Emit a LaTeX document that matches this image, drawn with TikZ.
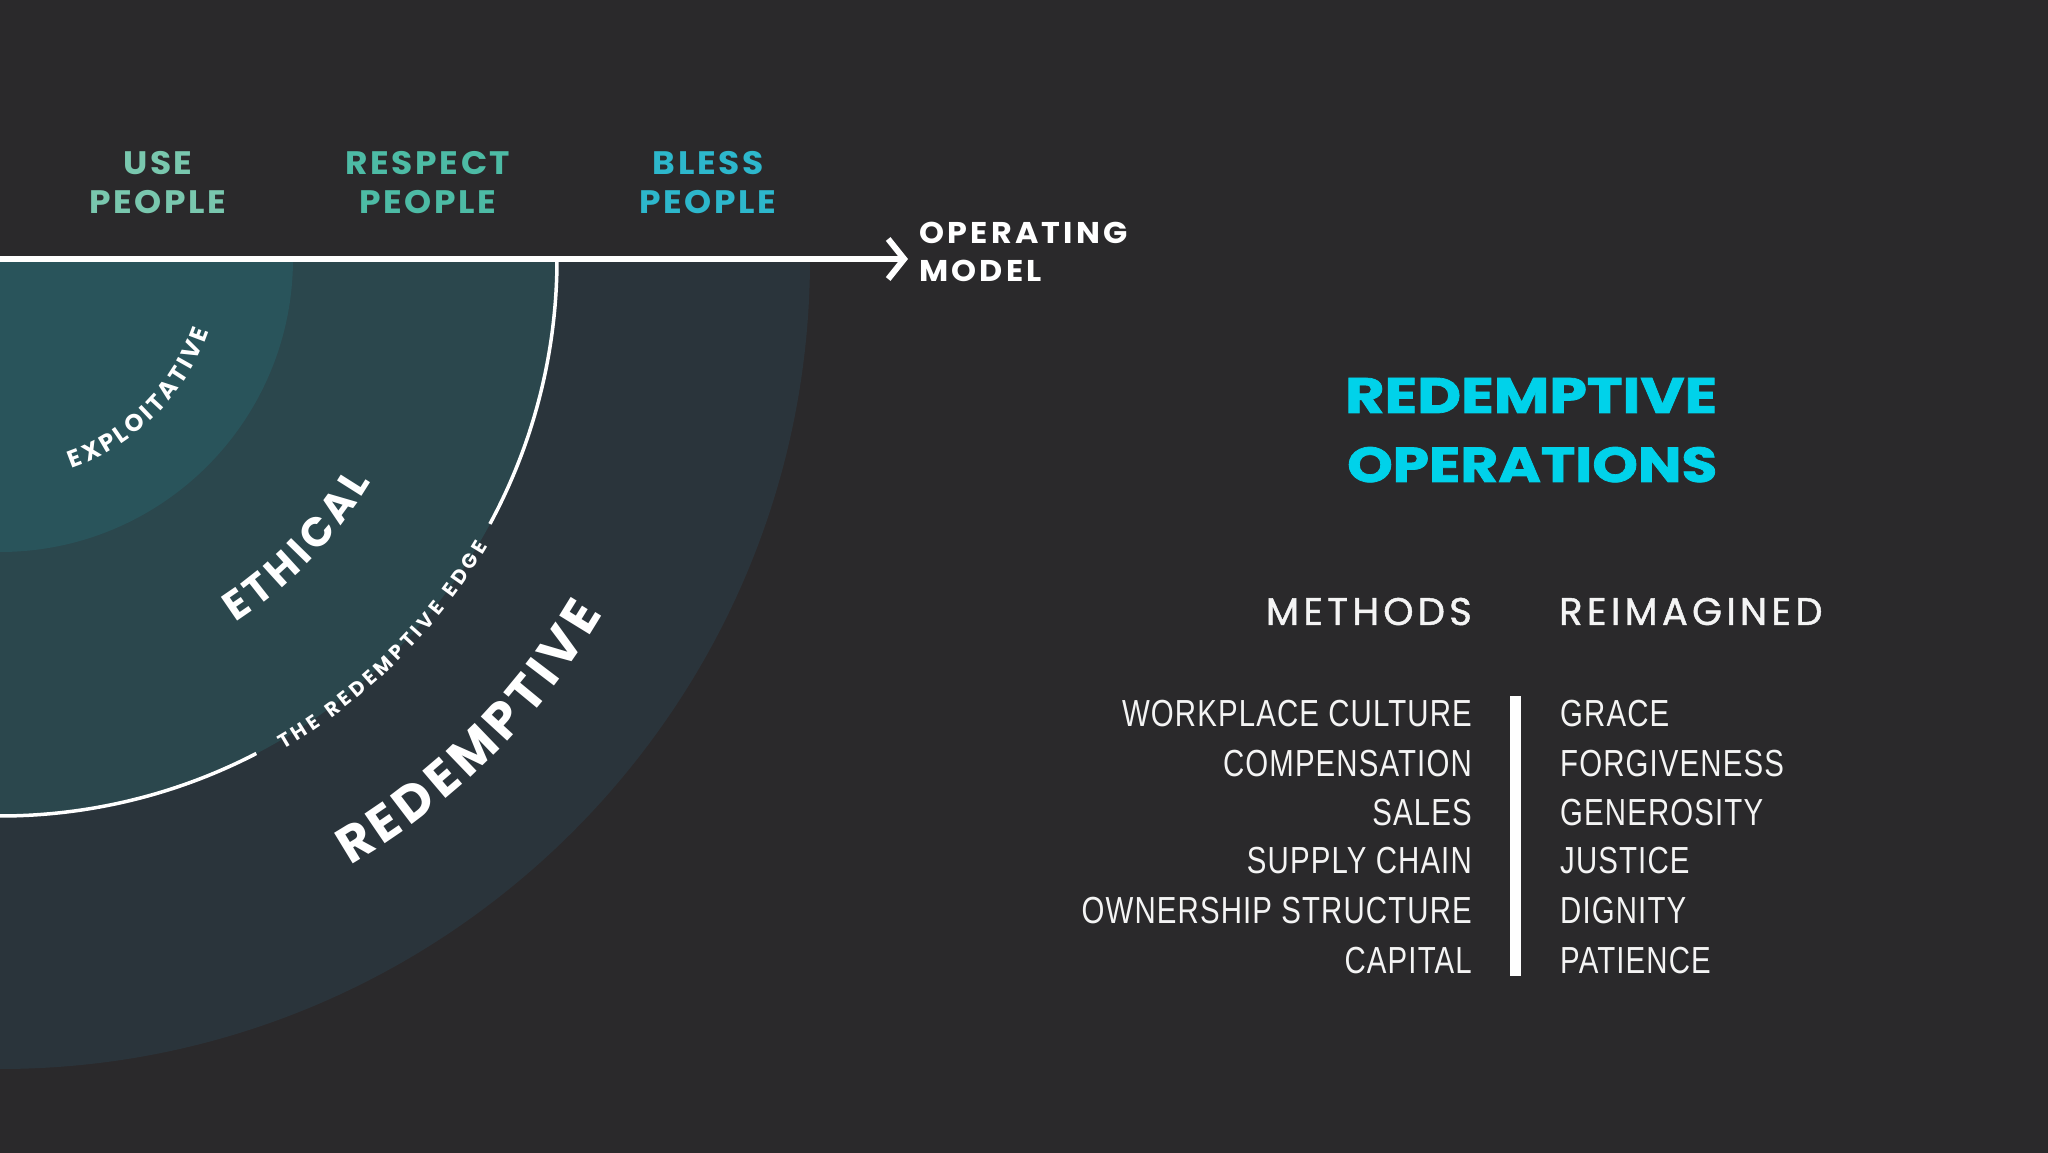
\documentclass[tikz,border=0pt]{standalone}
\usepackage{fontspec}
\usetikzlibrary{arrows.meta,decorations.text}
\setmainfont{Poppins}
\newfontfamily\headfont{Poppins}[LetterSpace=8,FakeStretch=1.06]
\newfontfamily\opfont{Poppins}[LetterSpace=11,FakeStretch=1.06]
\newfontfamily\medfont{Poppins}[LetterSpace=11,FakeBold=1.2]
\newfontfamily\blackfont{Poppins}[BoldFeatures={FakeBold=1.5}]
\newfontfamily\listfont{Liberation Sans}[FakeStretch=0.78,LetterSpace=3]
\definecolor{bg}{HTML}{2A292B}
\definecolor{innerc}{HTML}{29545B}
\definecolor{midc}{HTML}{2B474D}
\definecolor{outerc}{HTML}{2A343B}
\definecolor{usec}{HTML}{79C7AE}
\definecolor{respc}{HTML}{4DBBA5}
\definecolor{blessc}{HTML}{2DB7CC}
\definecolor{titlec}{HTML}{00D2EA}
\definecolor{txt}{HTML}{F4F4F4}
\tikzset{
  toplabel/.style={anchor=base,inner sep=0pt,font=\headfont\bfseries\fontsize{32.5}{32.5}\selectfont},
  oplabel/.style={anchor=base west,inner sep=0pt,text=white,font=\opfont\bfseries\fontsize{30}{30}\selectfont},
  titlelabel/.style={anchor=base west,inner sep=0pt,text=titlec,font=\blackfont\bfseries\fontsize{50}{50}\selectfont},
  colhead/.style={inner sep=0pt,text=txt,font=\medfont\fontsize{38.5}{38.5}\selectfont},
  leftitem/.style={anchor=base east,inner sep=0pt,text=txt,font=\listfont\fontsize{37.7}{37.7}\selectfont},
  rightitem/.style={anchor=base west,inner sep=0pt,text=txt,font=\listfont\fontsize{37.7}{37.7}\selectfont},
  axis/.style={white,line width=6pt,-{Straight Barb[length=16pt,width=40pt]}},
  edgeline/.style={white,line width=3.5pt},
  arctext/.style={decorate,decoration={text along path,text color=white,text align=fit to path,text={#1}}}
}
\begin{document}
\begin{tikzpicture}[x=1pt,y=1pt]
\useasboundingbox (0,0) rectangle (2048,1152);
\fill[bg] (-6,-6) rectangle (2054,1158);
\coordinate (C) at (0,893);
% quarter discs
\fill[outerc] (C) -- ++(810,0) arc[start angle=0,end angle=-90,radius=810] -- cycle;
\fill[midc] (C) -- ++(557,0) arc[start angle=0,end angle=-90,radius=557] -- cycle;
\fill[innerc] (C) -- ++(293,0) arc[start angle=0,end angle=-90,radius=293] -- cycle;
% redemptive edge line with gap
\draw[edgeline] (C) ++(0:557) arc[start angle=0,end angle=-28.4,radius=557];
\draw[edgeline] (C) ++(-62.6:557) arc[start angle=-62.6,end angle=-90,radius=557];
% curved labels
\path[arctext={|\bfseries\fontsize{24}{24}\selectfont|EXPLOITATIVE}] (C) ++(-71:221) arc[start angle=-71,end angle=-19,radius=221];
\path[arctext={|\bfseries\fontsize{41}{41}\selectfont|ETHICAL}] (C) ++(-57:433) arc[start angle=-57,end angle=-31,radius=433];
\path[arctext={|\bfseries\fontsize{20}{20}\selectfont|THE REDEMPTIVE EDGE}] (C) ++(-60:566) arc[start angle=-60,end angle=-30.5,radius=566];
\path[arctext={|\bfseries\fontsize{51}{51}\selectfont|REDEMPTIVE}] (C) ++(-60:700) arc[start angle=-60,end angle=-30.5,radius=700];
% axis
\coordinate (axstart) at (0,893);
\coordinate (axend) at (908,893);
\draw[axis] (axstart) -- (axend);
\node[oplabel] (op1) at (919,908) {OPERATING};
\node[oplabel] (op2) at (919,870) {MODEL};
% top labels
\node[toplabel,text=usec] (use1) at (158,977) {USE};
\node[toplabel,text=usec] (use2) at (158,938) {PEOPLE};
\node[toplabel,text=respc] (resp1) at (428,977) {RESPECT};
\node[toplabel,text=respc] (resp2) at (428,938) {PEOPLE};
\node[toplabel,text=blessc] (bless1) at (708,977) {BLESS};
\node[toplabel,text=blessc] (bless2) at (708,938) {PEOPLE};
% title
\node[titlelabel] (t1) at (1345,739) {\resizebox{372pt}{35pt}{REDEMPTIVE}};
\node[titlelabel] (t2) at (1347,670) {\resizebox{370pt}{35pt}{OPERATIONS}};
% column heads
\node[colhead,anchor=base east] (methods) at (1472,527) {METHODS};
\node[colhead,anchor=base west] (reimag) at (1559,527) {REIMAGINED};
% divider
\fill[white] (1510,176) rectangle (1521,456);
% lists
\node[leftitem] (l1) at (1472,425) {WORKPLACE CULTURE};
\node[leftitem] (l2) at (1472,375) {COMPENSATION};
\node[leftitem] (l3) at (1472,326) {SALES};
\node[leftitem] (l4) at (1472,278) {SUPPLY CHAIN};
\node[leftitem] (l5) at (1472,229) {OWNERSHIP STRUCTURE};
\node[leftitem] (l6) at (1472,179) {CAPITAL};
\node[rightitem] (r1) at (1560,425) {GRACE};
\node[rightitem] (r2) at (1560,375) {FORGIVENESS};
\node[rightitem] (r3) at (1560,326) {GENEROSITY};
\node[rightitem] (r4) at (1560,278) {JUSTICE};
\node[rightitem] (r5) at (1560,229) {DIGNITY};
\node[rightitem] (r6) at (1560,179) {PATIENCE};
\end{tikzpicture}
\end{document}
